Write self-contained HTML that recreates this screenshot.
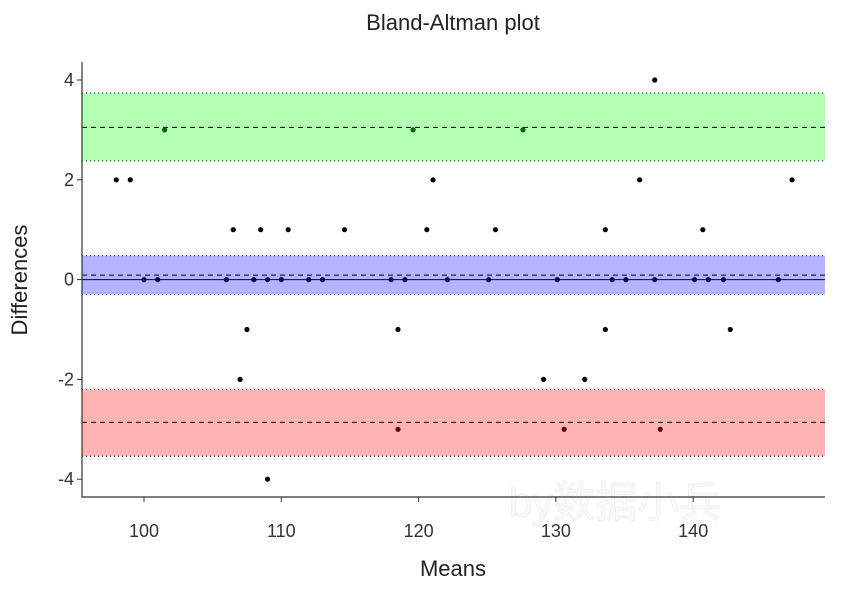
<!DOCTYPE html>
<html><head><meta charset="utf-8"><style>
body{margin:0;background:#fff}
svg text{font-family:"Liberation Sans","Noto Sans CJK SC",sans-serif}
</style></head><body>
<svg id="chart" width="844" height="594" xmlns="http://www.w3.org/2000/svg">
<g id="bands"></g><g id="pts"></g><g id="axes"></g>
</svg>
<script>
const means = [97.98,99.0,121.05,101.5,119.6,106.5,108.5,110.5,114.6,120.6,100.0,101.0,106.0,108.0,109.0,110.0,112.0,113.0,118.0,119.0,122.1,107.5,118.5,107.0,118.5,109.0,137.2,127.6,136.1,147.2,125.6,133.6,140.7,125.1,130.1,134.1,135.1,137.2,140.1,141.1,142.2,146.2,133.6,142.7,129.1,132.1,130.6,137.6];
const diffs = [2,2,2,3,3,1,1,1,1,1,0,0,0,0,0,0,0,0,0,0,0,-1,-1,-2,-3,-4,4,3,2,2,1,1,1,0,0,0,0,0,0,0,0,0,-1,-1,-2,-2,-3,-3];
const bandNames = ["upper-loa","mean-diff","lower-loa"];
const bandCenters = [3.05,0.09,-2.86];
const bandLows = [2.38,-0.3,-3.54];
const bandHighs = [3.74,0.48,-2.2];
const xTicks = [100,110,120,130,140];
const yTicks = [4,2,0,-2,-4];
const L=82,R=825,T=62,B=497;
const X=v=>144+(v-100)*13.73;
const Y=v=>279.6-v*49.9;
const NS="http://www.w3.org/2000/svg";
function mk(parent,tag,attrs){const e=document.createElementNS(NS,tag);for(const k in attrs)e.setAttribute(k,attrs[k]);document.getElementById(parent).appendChild(e);return e;}
const fills=["#b3ffb3","#b3b3ff","#ffb3b3"];
const dots=["#006400","#00004d","#640000"];
for(let i=0;i<bandCenters.length;i++){
  const r=mk("bands","rect",{x:L,y:Y(bandHighs[i]),width:R-L,height:Y(bandLows[i])-Y(bandHighs[i]),fill:fills[i]});
  
  
  [bandHighs[i],bandLows[i]].forEach(v=>{const l=mk("bands","line",{x1:L,x2:R,y1:Y(v),y2:Y(v),stroke:"#000","stroke-width":1,"stroke-dasharray":"1,3"});
    
    });
  const d=mk("bands","line",{x1:L,x2:R,y1:Y(bandCenters[i]),y2:Y(bandCenters[i]),stroke:"#000","stroke-width":1,"stroke-dasharray":"5,4"});
  
  
}
const z=mk("bands","line",{x1:L,x2:R,y1:Y(0),y2:Y(0),stroke:"#00004d","stroke-width":1});


for(let i=0;i<means.length;i++){
  let c="#000";
  for(let b=0;b<bandCenters.length;b++) if(diffs[i]>=bandLows[b]&&diffs[i]<=bandHighs[b]) c=dots[b];
  const p=mk("pts","circle",{cx:X(means[i]),cy:Y(diffs[i]),r:2.6,fill:c});
  
  
}
const wm=mk("axes","text",{x:615,y:517,"font-size":42,"text-anchor":"middle",fill:"#fafafa",stroke:"#f0f0f0","stroke-width":1});
wm.textContent="by数据小兵";


const ax=mk("axes","path",{d:`M${L},${T}V${B}H${R}`,stroke:"#333",fill:"none","stroke-width":1.2});


xTicks.forEach(v=>{
  const t=mk("axes","line",{x1:X(v),x2:X(v),y1:B,y2:B+5,stroke:"#333"});
  
  
  const l=mk("axes","text",{x:X(v),y:B+40,"font-size":18,"text-anchor":"middle",fill:"#333"});
  l.textContent=v;
  
  
});
yTicks.forEach(v=>{
  const t=mk("axes","line",{x1:L-5,x2:L,y1:Y(v),y2:Y(v),stroke:"#333"});
  
  
  const l=mk("axes","text",{x:L-8,y:Y(v)+6,"font-size":18,"text-anchor":"end",fill:"#333"});
  l.textContent=v;
  
  
});
const tt=mk("axes","text",{x:453,y:30,"font-size":22,"text-anchor":"middle",fill:"#222"});
tt.textContent="Bland-Altman plot";


const xt=mk("axes","text",{x:453,y:576,"font-size":22,"text-anchor":"middle",fill:"#222"});
xt.textContent="Means";


const yt=mk("axes","text",{x:0,y:0,"font-size":22,"text-anchor":"middle",fill:"#222",transform:"translate(27,280) rotate(-90)"});
yt.textContent="Differences";


</script>
</body></html>
